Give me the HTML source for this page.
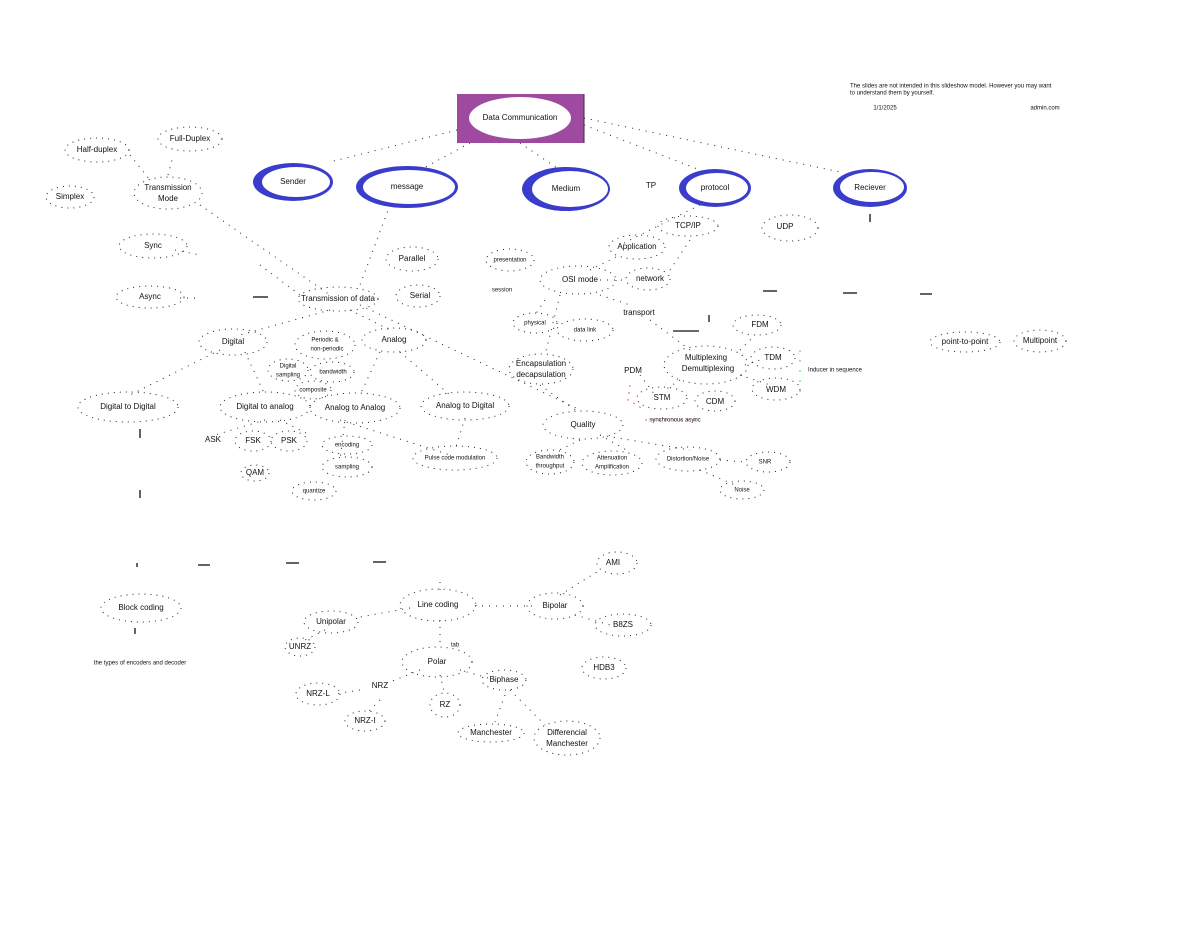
<!DOCTYPE html>
<html><head><meta charset="utf-8"><style>
html,body{margin:0;padding:0;background:#fff;}
svg{display:block;font-family:"Liberation Sans",sans-serif;}
.e{fill:none;stroke:#222;stroke-width:1;stroke-dasharray:1 5;}
.l{stroke:#222;stroke-width:1;stroke-dasharray:1 6;fill:none;}
.bo{fill:#3a3ccc;}
.bi{fill:#fff;}
text{font-size:8px;fill:#111;text-anchor:middle;dominant-baseline:middle;}
.s{font-size:6px;}
.d{stroke:#111;stroke-width:1.3;}
</style></head><body>
<svg width="1200" height="927" viewBox="0 0 1200 927">
<g class="l">
<path d="M457 130 L330 162"/><path d="M470 143 L420 170"/><path d="M520 143 L560 170"/>
<path d="M584 118 L840 172"/><path d="M584 125 L700 170"/>
<path d="M200 205 L330 295"/><path d="M260 265 L300 295"/><path d="M390 205 L360 285"/>
<path d="M175 250 L200 255"/><path d="M180 298 L200 298"/><path d="M168 175 L172 160"/><path d="M130 155 L150 180"/>
<path d="M330 310 L240 335"/><path d="M350 310 L390 330"/><path d="M360 305 L580 410"/>
<path d="M220 350 L130 395"/><path d="M245 352 L265 395"/><path d="M400 352 L450 395"/><path d="M380 352 L360 395"/>
<path d="M340 420 L450 455"/><path d="M465 418 L455 450"/><path d="M580 440 L555 452"/><path d="M600 435 L630 452"/>
<path d="M600 435 L690 450"/><path d="M720 460 L745 462"/><path d="M700 470 L735 485"/>
<path d="M265 420 L215 435"/><path d="M280 420 L310 435"/><path d="M345 420 L340 460"/>
<path d="M540 385 L575 410"/><path d="M545 300 L535 315"/><path d="M560 295 L545 355"/>
<path d="M600 280 L625 280"/><path d="M590 270 L620 255"/><path d="M600 295 L630 305"/>
<path d="M650 320 L690 350"/><path d="M690 240 L670 270"/><path d="M700 205 L620 245"/>
<path d="M740 350 L755 335"/><path d="M745 365 L760 360"/><path d="M740 375 L770 385"/>
<path d="M680 380 L665 390"/><path d="M640 375 L655 395"/>
<path d="M440 590 L440 580"/><path d="M410 608 L355 618"/><path d="M475 606 L535 606"/>
<path d="M560 595 L600 570"/><path d="M575 615 L610 625"/><path d="M440 620 L440 648"/>
<path d="M420 670 L390 682"/><path d="M460 670 L495 680"/><path d="M440 675 L445 695"/>
<path d="M505 695 L495 722"/><path d="M510 690 L545 725"/><path d="M360 690 L335 694"/><path d="M380 700 L365 715"/>
<path d="M325 630 L305 640"/>
</g>
<rect x="457" y="94" width="127" height="49" fill="#9e4aa0"/>
<line x1="584" y1="94" x2="584" y2="143" stroke="#333" stroke-width="1"/>
<ellipse cx="520" cy="118" rx="51" ry="21" fill="#fff"/>
<text x="520" y="118">Data Communication</text>
<ellipse class="bo" cx="293" cy="182" rx="40" ry="19"/><ellipse class="bi" cx="296" cy="182" rx="34" ry="15"/><text x="293" y="182">Sender</text>
<ellipse class="bo" cx="407" cy="187" rx="51" ry="21"/><ellipse class="bi" cx="409" cy="187" rx="46" ry="17"/><text x="407" y="187">message</text>
<ellipse class="bo" cx="566" cy="189" rx="44" ry="22"/><ellipse class="bi" cx="570" cy="189" rx="38" ry="18"/><text x="566" y="189">Medium</text>
<ellipse class="bo" cx="715" cy="188" rx="36" ry="19"/><ellipse class="bi" cx="717" cy="188" rx="31" ry="15"/><text x="715" y="188">protocol</text>
<ellipse class="bo" cx="870" cy="188" rx="37" ry="19"/><ellipse class="bi" cx="872" cy="187" rx="32" ry="15"/><text x="870" y="188">Reciever</text>
<text x="651" y="186">TP</text>
<g>
<ellipse class="e" cx="190" cy="139" rx="32" ry="12"/><text x="190" y="139">Full-Duplex</text>
<ellipse class="e" cx="97" cy="150" rx="32" ry="12"/><text x="97" y="150">Half-duplex</text>
<ellipse class="e" cx="70" cy="197" rx="24" ry="11"/><text x="70" y="197">Simplex</text>
<ellipse class="e" cx="168" cy="193" rx="34" ry="16"/><text x="168" y="188">Transmission</text><text x="168" y="199">Mode</text>
<ellipse class="e" cx="153" cy="246" rx="34" ry="12"/><text x="153" y="246">Sync</text>
<ellipse class="e" cx="150" cy="297" rx="34" ry="11"/><text x="150" y="297">Async</text>
<ellipse class="e" cx="338" cy="299" rx="40" ry="12"/><text x="338" y="299">Transmission of data</text>
<ellipse class="e" cx="412" cy="259" rx="26" ry="12"/><text x="412" y="259">Parallel</text>
<ellipse class="e" cx="418" cy="296" rx="22" ry="11"/><text x="420" y="296">Serial</text>
<ellipse class="e" cx="510" cy="260" rx="24" ry="11"/><text x="510" y="260" class="s">presentation</text>
<text x="502" y="290" class="s">session</text>
<ellipse class="e" cx="578" cy="280" rx="38" ry="14"/><text x="580" y="280">OSI mode</text>
<ellipse class="e" cx="637" cy="247" rx="28" ry="12"/><text x="637" y="247">Application</text>
<ellipse class="e" cx="688" cy="226" rx="30" ry="10"/><text x="688" y="226">TCP/IP</text>
<ellipse class="e" cx="790" cy="228" rx="28" ry="13"/><text x="785" y="227">UDP</text>
<ellipse class="e" cx="648" cy="279" rx="22" ry="11"/><text x="650" y="279">network</text>
<text x="639" y="313">transport</text>
<ellipse class="e" cx="535" cy="323" rx="22" ry="10"/><text x="535" y="323" class="s">physical</text>
<ellipse class="e" cx="585" cy="330" rx="28" ry="11"/><text x="585" y="330" class="s">data link</text>
<ellipse class="e" cx="541" cy="369" rx="32" ry="15"/><text x="541" y="364">Encapsulation</text><text x="541" y="375">decapsulation</text>
<ellipse class="e" cx="706" cy="365" rx="42" ry="19"/><text x="706" y="358">Multiplexing</text><text x="708" y="369">Demultiplexing</text>
<ellipse class="e" cx="757" cy="325" rx="24" ry="10"/><text x="760" y="325">FDM</text>
<ellipse class="e" cx="773" cy="358" rx="22" ry="11"/><text x="773" y="358">TDM</text>
<ellipse class="e" cx="776" cy="389" rx="24" ry="11"/><text x="776" y="390">WDM</text>
<text x="835" y="370" class="s">Inducer in sequence</text>
<g stroke="#4c4" stroke-dasharray="2 8"><line x1="800" y1="350" x2="800" y2="392"/></g>
<text x="633" y="371">PDM</text>
<ellipse class="e" cx="662" cy="398" rx="25" ry="11"/><text x="662" y="398">STM</text>
<ellipse class="e" cx="715" cy="401" rx="20" ry="10"/><text x="715" y="402">CDM</text>
<g stroke="#e66" stroke-dasharray="2 5" fill="none"><path d="M630 385 L628 400 L645 410"/><path d="M645 420 L700 420"/></g>
<text x="675" y="420" class="s">synchronous async</text>
<ellipse class="e" cx="965" cy="342" rx="35" ry="10"/><text x="965" y="342">point-to-point</text>
<ellipse class="e" cx="1040" cy="341" rx="26" ry="11"/><text x="1040" y="341">Multipoint</text>
<ellipse class="e" cx="233" cy="342" rx="34" ry="13"/><text x="233" y="342">Digital</text>
<ellipse class="e" cx="325" cy="345" rx="30" ry="14"/><text x="325" y="340" class="s">Periodic &amp;</text><text x="327" y="349" class="s">non-periodic</text>
<ellipse class="e" cx="394" cy="340" rx="32" ry="12"/><text x="394" y="340">Analog</text>
<ellipse class="e" cx="288" cy="370" rx="20" ry="11"/><text x="288" y="366" class="s">Digital</text><text x="288" y="375" class="s">sampling</text>
<ellipse class="e" cx="332" cy="372" rx="22" ry="10"/><text x="333" y="372" class="s">bandwidth</text>
<ellipse class="e" cx="313" cy="390" rx="18" ry="9"/><text x="313" y="390" class="s">composite</text>
<ellipse class="e" cx="128" cy="407" rx="50" ry="15"/><text x="128" y="407">Digital to Digital</text>
<ellipse class="e" cx="265" cy="407" rx="45" ry="15"/><text x="265" y="407">Digital to analog</text>
<ellipse class="e" cx="355" cy="408" rx="45" ry="15"/><text x="355" y="408">Analog to Analog</text>
<ellipse class="e" cx="465" cy="406" rx="44" ry="14"/><text x="465" y="406">Analog to Digital</text>
<ellipse class="e" cx="583" cy="425" rx="40" ry="14"/><text x="583" y="425">Quality</text>
<ellipse class="e" cx="550" cy="462" rx="24" ry="12"/><text x="550" y="457" class="s">Bandwidth</text><text x="550" y="466" class="s">throughput</text>
<ellipse class="e" cx="612" cy="463" rx="30" ry="12"/><text x="612" y="458" class="s">Attenuation</text><text x="612" y="467" class="s">Amplification</text>
<ellipse class="e" cx="688" cy="459" rx="32" ry="12"/><text x="688" y="459" class="s">Distortion/Noise</text>
<ellipse class="e" cx="768" cy="462" rx="22" ry="10"/><text x="765" y="462" class="s">SNR</text>
<ellipse class="e" cx="742" cy="490" rx="22" ry="9"/><text x="742" y="490" class="s">Noise</text>
<text x="213" y="440">ASK</text>
<ellipse class="e" cx="253" cy="441" rx="18" ry="10"/><text x="253" y="441">FSK</text>
<ellipse class="e" cx="289" cy="441" rx="18" ry="10"/><text x="289" y="441">PSK</text>
<ellipse class="e" cx="347" cy="445" rx="25" ry="9"/><text x="347" y="445" class="s">encoding</text>
<ellipse class="e" cx="347" cy="467" rx="25" ry="10"/><text x="347" y="467" class="s">sampling</text>
<ellipse class="e" cx="255" cy="473" rx="14" ry="8"/><text x="255" y="473">QAM</text>
<ellipse class="e" cx="314" cy="491" rx="22" ry="9"/><text x="314" y="491" class="s">quantize</text>
<ellipse class="e" cx="455" cy="458" rx="42" ry="12"/><text x="455" y="458" class="s">Pulse code modulation</text>
<ellipse class="e" cx="438" cy="605" rx="38" ry="16"/><text x="438" y="605">Line coding</text>
<ellipse class="e" cx="141" cy="608" rx="40" ry="14"/><text x="141" y="608">Block coding</text>
<ellipse class="e" cx="331" cy="622" rx="27" ry="11"/><text x="331" y="622">Unipolar</text>
<ellipse class="e" cx="300" cy="647" rx="15" ry="9"/><text x="300" y="647">UNRZ</text>
<ellipse class="e" cx="555" cy="606" rx="28" ry="13"/><text x="555" y="606">Bipolar</text>
<ellipse class="e" cx="617" cy="563" rx="20" ry="11"/><text x="613" y="563">AMI</text>
<ellipse class="e" cx="623" cy="625" rx="28" ry="11"/><text x="623" y="625">B8ZS</text>
<ellipse class="e" cx="604" cy="668" rx="22" ry="11"/><text x="604" y="668">HDB3</text>
<ellipse class="e" cx="437" cy="662" rx="35" ry="15"/><text x="437" y="662">Polar</text>
<text x="380" y="686">NRZ</text>
<ellipse class="e" cx="318" cy="694" rx="22" ry="11"/><text x="318" y="694">NRZ-L</text>
<ellipse class="e" cx="365" cy="721" rx="20" ry="10"/><text x="365" y="721">NRZ-I</text>
<ellipse class="e" cx="445" cy="705" rx="15" ry="12"/><text x="445" y="705">RZ</text>
<ellipse class="e" cx="504" cy="680" rx="22" ry="10"/><text x="504" y="680">Biphase</text>
<ellipse class="e" cx="491" cy="733" rx="33" ry="9"/><text x="491" y="733">Manchester</text>
<ellipse class="e" cx="567" cy="738" rx="33" ry="17"/><text x="567" y="733">Differencial</text><text x="567" y="744">Manchester</text>
<text x="455" y="645" class="s">tab</text><text x="140" y="663" class="s">the types of encoders and decoder</text>
</g>
<g class="d">
<line x1="253" y1="297" x2="268" y2="297"/><line x1="763" y1="291" x2="777" y2="291"/><line x1="843" y1="293" x2="857" y2="293"/><line x1="920" y1="294" x2="932" y2="294"/>
<line x1="673" y1="331" x2="699" y2="331"/><line x1="709" y1="315" x2="709" y2="322"/><line x1="870" y1="214" x2="870" y2="222"/>
<line x1="140" y1="429" x2="140" y2="438"/><line x1="140" y1="490" x2="140" y2="498"/>
<line x1="198" y1="565" x2="210" y2="565"/><line x1="286" y1="563" x2="299" y2="563"/><line x1="373" y1="562" x2="386" y2="562"/>
<line x1="137" y1="563" x2="137" y2="567"/><line x1="135" y1="628" x2="135" y2="634"/>
</g>
<text x="850" y="86" class="s" style="text-anchor:start">The slides are not intended in this slideshow model. However you may want</text>
<text x="850" y="93" class="s" style="text-anchor:start">to understand them by yourself.</text>
<text x="885" y="108" class="s">1/1/2025</text>
<text x="1045" y="108" class="s">admin.com</text>
</svg>
</body></html>
